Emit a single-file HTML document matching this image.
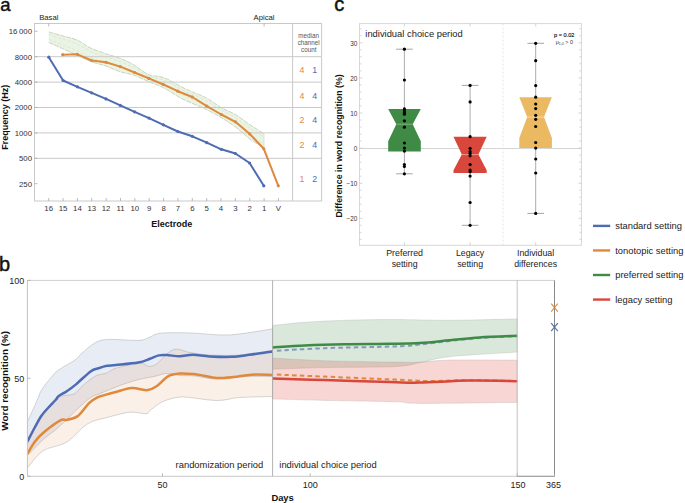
<!DOCTYPE html>
<html><head><meta charset="utf-8"><style>html,body{margin:0;padding:0;background:#fff;overflow:hidden}svg{display:block}</style></head><body>
<svg width="685" height="503" viewBox="0 0 685 503" font-family='"Liberation Sans", sans-serif'>
<rect width="685" height="503" fill="#fff"/>
<path d="M48.80,32.00 C51.23,32.68 58.63,34.73 63.40,36.10 C68.17,37.47 72.93,38.25 77.40,40.20 C81.87,42.15 85.53,45.57 90.20,47.80 C94.87,50.03 100.43,51.85 105.40,53.60 C110.37,55.35 115.33,56.47 120.00,58.30 C124.67,60.13 128.65,61.90 133.40,64.60 C138.15,67.30 143.25,72.27 148.50,74.50 C153.75,76.73 158.82,75.63 164.90,78.00 C170.98,80.37 178.27,85.47 185.00,88.70 C191.73,91.93 199.25,94.25 205.30,97.40 C211.35,100.55 216.22,104.70 221.30,107.60 C226.38,110.50 230.97,111.90 235.80,114.80 C240.63,117.70 245.60,121.85 250.30,125.00 C255.00,128.15 261.72,132.25 264.00,133.70 L264.00,148.00 C261.72,146.55 255.00,142.75 250.30,139.30 C245.60,135.85 240.63,130.90 235.80,127.30 C230.97,123.70 226.62,120.87 221.30,117.70 C215.98,114.53 210.38,111.42 203.90,108.30 C197.42,105.18 188.90,102.30 182.40,99.00 C175.90,95.70 170.35,91.32 164.90,88.50 C159.45,85.68 154.95,84.33 149.70,82.10 C144.45,79.87 138.35,76.83 133.40,75.10 C128.45,73.37 124.67,73.23 120.00,71.70 C115.33,70.17 110.17,67.55 105.40,65.90 C100.63,64.25 96.07,63.55 91.40,61.80 C86.73,60.05 82.07,57.53 77.40,55.40 C72.73,53.27 68.17,51.15 63.40,49.00 C58.63,46.85 51.23,43.58 48.80,42.50 Z" fill="#ebf4e4" stroke="none" stroke-width="0.5" fill-opacity="1"/>
<path d="M48.80,32.00 C51.23,32.68 58.63,34.73 63.40,36.10 C68.17,37.47 72.93,38.25 77.40,40.20 C81.87,42.15 85.53,45.57 90.20,47.80 C94.87,50.03 100.43,51.85 105.40,53.60 C110.37,55.35 115.33,56.47 120.00,58.30 C124.67,60.13 128.65,61.90 133.40,64.60 C138.15,67.30 143.25,72.27 148.50,74.50 C153.75,76.73 158.82,75.63 164.90,78.00 C170.98,80.37 178.27,85.47 185.00,88.70 C191.73,91.93 199.25,94.25 205.30,97.40 C211.35,100.55 216.22,104.70 221.30,107.60 C226.38,110.50 230.97,111.90 235.80,114.80 C240.63,117.70 245.60,121.85 250.30,125.00 C255.00,128.15 261.72,132.25 264.00,133.70" fill="none" stroke="#a3b597" stroke-width="0.55" stroke-dasharray="5 1"/>
<path d="M48.80,42.50 C51.23,43.58 58.63,46.85 63.40,49.00 C68.17,51.15 72.73,53.27 77.40,55.40 C82.07,57.53 86.73,60.05 91.40,61.80 C96.07,63.55 100.63,64.25 105.40,65.90 C110.17,67.55 115.33,70.17 120.00,71.70 C124.67,73.23 128.45,73.37 133.40,75.10 C138.35,76.83 144.45,79.87 149.70,82.10 C154.95,84.33 159.45,85.68 164.90,88.50 C170.35,91.32 175.90,95.70 182.40,99.00 C188.90,102.30 197.42,105.18 203.90,108.30 C210.38,111.42 215.98,114.53 221.30,117.70 C226.62,120.87 230.97,123.70 235.80,127.30 C240.63,130.90 245.60,135.85 250.30,139.30 C255.00,142.75 261.72,146.55 264.00,148.00" fill="none" stroke="#a3b597" stroke-width="0.55" stroke-dasharray="5 1"/>
<line x1="264" y1="133.7" x2="264" y2="148" stroke="#c6d8b8" stroke-width="0.6"/>
<path d="M48.80,34.62 C51.23,35.41 58.63,37.76 63.40,39.33 C68.17,40.89 72.93,42.00 77.40,44.00 C81.87,46.00 85.53,49.19 90.20,51.30 C94.87,53.41 100.43,54.95 105.40,56.68 C110.37,58.40 115.33,59.89 120.00,61.65 C124.67,63.41 128.65,64.77 133.40,67.22 C138.15,69.68 143.25,74.17 148.50,76.40 C153.75,78.63 158.82,78.15 164.90,80.62 C170.98,83.10 178.27,88.03 185.00,91.28 C191.73,94.53 199.25,96.98 205.30,100.13 C211.35,103.27 216.22,107.16 221.30,110.12 C226.38,113.09 230.97,114.85 235.80,117.92 C240.63,121.00 245.60,125.35 250.30,128.57 C255.00,131.80 261.72,135.82 264.00,137.27" fill="none" stroke="#cfe0c2" stroke-width="0.6" stroke-dasharray="3 2"/>
<path d="M48.80,39.35 C51.23,40.31 58.63,43.21 63.40,45.13 C68.17,47.04 72.93,48.76 77.40,50.84 C81.87,52.92 85.53,55.70 90.20,57.60 C94.87,59.49 100.43,60.53 105.40,62.21 C110.37,63.89 115.33,66.06 120.00,67.68 C124.67,69.30 128.65,69.93 133.40,71.95 C138.15,73.97 143.25,77.59 148.50,79.82 C153.75,82.05 158.82,82.67 164.90,85.35 C170.98,88.03 178.27,92.63 185.00,95.91 C191.73,99.19 199.25,101.90 205.30,105.03 C211.35,108.16 216.22,111.58 221.30,114.67 C226.38,117.76 230.97,120.16 235.80,123.55 C240.63,126.94 245.60,131.65 250.30,135.01 C255.00,138.37 261.72,142.26 264.00,143.71" fill="none" stroke="#cfe0c2" stroke-width="0.6" stroke-dasharray="3 2"/>
<line x1="34.5" y1="56.7" x2="321.6" y2="56.7" stroke="#c9c9c9" stroke-width="1" />
<line x1="34.5" y1="82.1" x2="321.6" y2="82.1" stroke="#c9c9c9" stroke-width="1" />
<line x1="34.5" y1="107.49999999999999" x2="321.6" y2="107.49999999999999" stroke="#c9c9c9" stroke-width="1" />
<line x1="34.5" y1="132.9" x2="321.6" y2="132.9" stroke="#c9c9c9" stroke-width="1" />
<line x1="34.5" y1="158.3" x2="321.6" y2="158.3" stroke="#c9c9c9" stroke-width="1" />
<rect x="34.5" y="23.5" width="287.1" height="177.5" fill="none" stroke="#c9c9c9" stroke-width="1"/>
<line x1="292.6" y1="23.5" x2="292.6" y2="201.0" stroke="#c9c9c9" stroke-width="1" />
<line x1="34.5" y1="31.3" x2="37.5" y2="31.3" stroke="#aaa" stroke-width="0.8" />
<line x1="34.5" y1="56.7" x2="37.5" y2="56.7" stroke="#aaa" stroke-width="0.8" />
<line x1="34.5" y1="82.1" x2="37.5" y2="82.1" stroke="#aaa" stroke-width="0.8" />
<line x1="34.5" y1="107.49999999999999" x2="37.5" y2="107.49999999999999" stroke="#aaa" stroke-width="0.8" />
<line x1="34.5" y1="132.9" x2="37.5" y2="132.9" stroke="#aaa" stroke-width="0.8" />
<line x1="34.5" y1="158.3" x2="37.5" y2="158.3" stroke="#aaa" stroke-width="0.8" />
<line x1="34.5" y1="183.7" x2="37.5" y2="183.7" stroke="#aaa" stroke-width="0.8" />
<text x="32" y="34.1" font-size="7.8" text-anchor="end" fill="#333" font-weight="normal" >16&#8201;000</text>
<text x="32" y="59.5" font-size="7.8" text-anchor="end" fill="#333" font-weight="normal" >8000</text>
<text x="32" y="84.89999999999999" font-size="7.8" text-anchor="end" fill="#333" font-weight="normal" >4000</text>
<text x="32" y="110.29999999999998" font-size="7.8" text-anchor="end" fill="#333" font-weight="normal" >2000</text>
<text x="32" y="135.70000000000002" font-size="7.8" text-anchor="end" fill="#333" font-weight="normal" >1000</text>
<text x="32" y="161.10000000000002" font-size="7.8" text-anchor="end" fill="#333" font-weight="normal" >500</text>
<text x="32" y="186.5" font-size="7.8" text-anchor="end" fill="#333" font-weight="normal" >250</text>
<line x1="48.7" y1="201.0" x2="48.7" y2="198.0" stroke="#aaa" stroke-width="0.8" />
<text x="48.7" y="210.6" font-size="7.8" text-anchor="middle" fill="#333" font-weight="normal" >16</text>
<line x1="63.06" y1="201.0" x2="63.06" y2="198.0" stroke="#aaa" stroke-width="0.8" />
<text x="63.06" y="210.6" font-size="7.8" text-anchor="middle" fill="#333" font-weight="normal" >15</text>
<line x1="77.42" y1="201.0" x2="77.42" y2="198.0" stroke="#aaa" stroke-width="0.8" />
<text x="77.42" y="210.6" font-size="7.8" text-anchor="middle" fill="#333" font-weight="normal" >14</text>
<line x1="91.78" y1="201.0" x2="91.78" y2="198.0" stroke="#aaa" stroke-width="0.8" />
<text x="91.78" y="210.6" font-size="7.8" text-anchor="middle" fill="#333" font-weight="normal" >13</text>
<line x1="106.14" y1="201.0" x2="106.14" y2="198.0" stroke="#aaa" stroke-width="0.8" />
<text x="106.14" y="210.6" font-size="7.8" text-anchor="middle" fill="#333" font-weight="normal" >12</text>
<line x1="120.5" y1="201.0" x2="120.5" y2="198.0" stroke="#aaa" stroke-width="0.8" />
<text x="120.5" y="210.6" font-size="7.8" text-anchor="middle" fill="#333" font-weight="normal" >11</text>
<line x1="134.86" y1="201.0" x2="134.86" y2="198.0" stroke="#aaa" stroke-width="0.8" />
<text x="134.86" y="210.6" font-size="7.8" text-anchor="middle" fill="#333" font-weight="normal" >10</text>
<line x1="149.22" y1="201.0" x2="149.22" y2="198.0" stroke="#aaa" stroke-width="0.8" />
<text x="149.22" y="210.6" font-size="7.8" text-anchor="middle" fill="#333" font-weight="normal" >9</text>
<line x1="163.57999999999998" y1="201.0" x2="163.57999999999998" y2="198.0" stroke="#aaa" stroke-width="0.8" />
<text x="163.57999999999998" y="210.6" font-size="7.8" text-anchor="middle" fill="#333" font-weight="normal" >8</text>
<line x1="177.94" y1="201.0" x2="177.94" y2="198.0" stroke="#aaa" stroke-width="0.8" />
<text x="177.94" y="210.6" font-size="7.8" text-anchor="middle" fill="#333" font-weight="normal" >7</text>
<line x1="192.3" y1="201.0" x2="192.3" y2="198.0" stroke="#aaa" stroke-width="0.8" />
<text x="192.3" y="210.6" font-size="7.8" text-anchor="middle" fill="#333" font-weight="normal" >6</text>
<line x1="206.65999999999997" y1="201.0" x2="206.65999999999997" y2="198.0" stroke="#aaa" stroke-width="0.8" />
<text x="206.65999999999997" y="210.6" font-size="7.8" text-anchor="middle" fill="#333" font-weight="normal" >5</text>
<line x1="221.01999999999998" y1="201.0" x2="221.01999999999998" y2="198.0" stroke="#aaa" stroke-width="0.8" />
<text x="221.01999999999998" y="210.6" font-size="7.8" text-anchor="middle" fill="#333" font-weight="normal" >4</text>
<line x1="235.38" y1="201.0" x2="235.38" y2="198.0" stroke="#aaa" stroke-width="0.8" />
<text x="235.38" y="210.6" font-size="7.8" text-anchor="middle" fill="#333" font-weight="normal" >3</text>
<line x1="249.74" y1="201.0" x2="249.74" y2="198.0" stroke="#aaa" stroke-width="0.8" />
<text x="249.74" y="210.6" font-size="7.8" text-anchor="middle" fill="#333" font-weight="normal" >2</text>
<line x1="264.09999999999997" y1="201.0" x2="264.09999999999997" y2="198.0" stroke="#aaa" stroke-width="0.8" />
<text x="264.09999999999997" y="210.6" font-size="7.8" text-anchor="middle" fill="#333" font-weight="normal" >1</text>
<line x1="278.46" y1="201.0" x2="278.46" y2="198.0" stroke="#aaa" stroke-width="0.8" />
<text x="278.46" y="210.6" font-size="7.8" text-anchor="middle" fill="#333" font-weight="normal" >V</text>
<line x1="48.7" y1="23.5" x2="48.7" y2="26.5" stroke="#aaa" stroke-width="0.8" />
<line x1="264.09999999999997" y1="23.5" x2="264.09999999999997" y2="26.5" stroke="#aaa" stroke-width="0.8" />
<text x="48.800000000000004" y="19.5" font-size="7.7" text-anchor="middle" fill="#222" font-weight="normal" >Basal</text>
<text x="264.09999999999997" y="19.5" font-size="7.7" text-anchor="middle" fill="#222" font-weight="normal" >Apical</text>
<text x="171.8" y="226.7" font-size="9" text-anchor="middle" fill="#111" font-weight="bold" >Electrode</text>
<text x="0" y="0" font-size="9" font-weight="bold" fill="#111" text-anchor="middle" transform="translate(8.2,117.3) rotate(-90)">Frequency (Hz)</text>
<text x="0.2" y="10.8" font-size="18.5" text-anchor="start" fill="#111" font-weight="normal" stroke="#111" stroke-width="0.45">a</text>
<polyline points="48.80,57.20 63.10,80.50 77.40,86.80 91.70,92.80 106.00,98.90 120.30,105.40 134.60,111.80 149.00,118.10 163.40,124.80 177.80,131.50 192.30,136.30 206.80,142.70 221.30,149.30 235.40,153.50 249.60,163.00 263.80,185.80" fill="none" stroke="#4e6cb3" stroke-width="2" stroke-linejoin="round"/>
<polyline points="62.70,54.70 77.40,54.30 91.70,60.50 106.00,62.30 120.30,66.60 134.60,72.50 148.90,78.40 163.40,84.50 177.80,91.20 192.30,97.00 206.80,106.20 221.30,114.50 235.40,121.80 249.60,133.80 263.80,148.80 278.30,185.80" fill="none" stroke="#de893b" stroke-width="2" stroke-linejoin="round"/>
<circle cx="48.8" cy="57.2" r="1.6" fill="#4e6cb3"/>
<circle cx="63.1" cy="80.5" r="1.6" fill="#4e6cb3"/>
<circle cx="77.4" cy="86.8" r="1.6" fill="#4e6cb3"/>
<circle cx="91.7" cy="92.8" r="1.6" fill="#4e6cb3"/>
<circle cx="106" cy="98.9" r="1.6" fill="#4e6cb3"/>
<circle cx="120.3" cy="105.4" r="1.6" fill="#4e6cb3"/>
<circle cx="134.6" cy="111.8" r="1.6" fill="#4e6cb3"/>
<circle cx="149" cy="118.1" r="1.6" fill="#4e6cb3"/>
<circle cx="163.4" cy="124.8" r="1.6" fill="#4e6cb3"/>
<circle cx="177.8" cy="131.5" r="1.6" fill="#4e6cb3"/>
<circle cx="192.3" cy="136.3" r="1.6" fill="#4e6cb3"/>
<circle cx="206.8" cy="142.7" r="1.6" fill="#4e6cb3"/>
<circle cx="221.3" cy="149.3" r="1.6" fill="#4e6cb3"/>
<circle cx="235.4" cy="153.5" r="1.6" fill="#4e6cb3"/>
<circle cx="249.6" cy="163" r="1.6" fill="#4e6cb3"/>
<circle cx="263.8" cy="185.8" r="1.6" fill="#4e6cb3"/>
<circle cx="62.7" cy="54.7" r="1.6" fill="#de893b"/>
<circle cx="77.4" cy="54.3" r="1.6" fill="#de893b"/>
<circle cx="91.7" cy="60.5" r="1.6" fill="#de893b"/>
<circle cx="106" cy="62.3" r="1.6" fill="#de893b"/>
<circle cx="120.3" cy="66.6" r="1.6" fill="#de893b"/>
<circle cx="134.6" cy="72.5" r="1.6" fill="#de893b"/>
<circle cx="148.9" cy="78.4" r="1.6" fill="#de893b"/>
<circle cx="163.4" cy="84.5" r="1.6" fill="#de893b"/>
<circle cx="177.8" cy="91.2" r="1.6" fill="#de893b"/>
<circle cx="192.3" cy="97" r="1.6" fill="#de893b"/>
<circle cx="206.8" cy="106.2" r="1.6" fill="#de893b"/>
<circle cx="221.3" cy="114.5" r="1.6" fill="#de893b"/>
<circle cx="235.4" cy="121.8" r="1.6" fill="#de893b"/>
<circle cx="249.6" cy="133.8" r="1.6" fill="#de893b"/>
<circle cx="263.8" cy="148.8" r="1.6" fill="#de893b"/>
<circle cx="278.3" cy="185.8" r="1.6" fill="#de893b"/>
<text x="308.7" y="37.8" font-size="6.3" text-anchor="middle" fill="#555" font-weight="normal" >median</text>
<text x="308.7" y="44.8" font-size="6.3" text-anchor="middle" fill="#555" font-weight="normal" >channel</text>
<text x="308.7" y="51.8" font-size="6.3" text-anchor="middle" fill="#555" font-weight="normal" >count</text>
<text x="301.9" y="73.3" font-size="8.8" text-anchor="middle" fill="#de893b" font-weight="normal" >4</text>
<text x="314.6" y="73.3" font-size="8.8" text-anchor="middle" fill="#4e6cb3" font-weight="normal" >1</text>
<text x="301.9" y="98.6" font-size="8.8" text-anchor="middle" fill="#de893b" font-weight="normal" >4</text>
<text x="314.6" y="98.6" font-size="8.8" text-anchor="middle" fill="#4e6cb3" font-weight="normal" >4</text>
<text x="301.9" y="123.1" font-size="8.8" text-anchor="middle" fill="#de893b" font-weight="normal" >2</text>
<text x="314.6" y="123.1" font-size="8.8" text-anchor="middle" fill="#4e6cb3" font-weight="normal" >4</text>
<text x="301.9" y="148.1" font-size="8.8" text-anchor="middle" fill="#de893b" font-weight="normal" >2</text>
<text x="314.6" y="148.1" font-size="8.8" text-anchor="middle" fill="#4e6cb3" font-weight="normal" >4</text>
<text x="301.9" y="181.9" font-size="8.8" text-anchor="middle" fill="#de893b" font-weight="normal" >1</text>
<text x="314.6" y="181.9" font-size="8.8" text-anchor="middle" fill="#4e6cb3" font-weight="normal" >2</text>
<text x="334.3" y="10.5" font-size="20" text-anchor="start" fill="#111" font-weight="normal" stroke="#111" stroke-width="0.5">c</text>
<rect x="359.5" y="23.6" width="221.89999999999998" height="221.70000000000002" fill="none" stroke="#d8d8d8" stroke-width="1"/>
<line x1="359.5" y1="148.5" x2="581.4" y2="148.5" stroke="#d4d4d4" stroke-width="1" />
<line x1="503.2" y1="23.6" x2="503.2" y2="245.3" stroke="#e0e0e0" stroke-width="0.8" stroke-dasharray="2 2"/>
<line x1="359.5" y1="239.35999999999999" x2="361.5" y2="239.35999999999999" stroke="#bbb" stroke-width="0.6" />
<line x1="581.4" y1="239.35999999999999" x2="579.4" y2="239.35999999999999" stroke="#bbb" stroke-width="0.6" />
<line x1="359.5" y1="232.33999999999997" x2="361.5" y2="232.33999999999997" stroke="#bbb" stroke-width="0.6" />
<line x1="581.4" y1="232.33999999999997" x2="579.4" y2="232.33999999999997" stroke="#bbb" stroke-width="0.6" />
<line x1="359.5" y1="225.32" x2="361.5" y2="225.32" stroke="#bbb" stroke-width="0.6" />
<line x1="581.4" y1="225.32" x2="579.4" y2="225.32" stroke="#bbb" stroke-width="0.6" />
<line x1="359.5" y1="218.29999999999998" x2="362.5" y2="218.29999999999998" stroke="#bbb" stroke-width="0.6" />
<line x1="581.4" y1="218.29999999999998" x2="578.4" y2="218.29999999999998" stroke="#bbb" stroke-width="0.6" />
<line x1="359.5" y1="211.27999999999997" x2="361.5" y2="211.27999999999997" stroke="#bbb" stroke-width="0.6" />
<line x1="581.4" y1="211.27999999999997" x2="579.4" y2="211.27999999999997" stroke="#bbb" stroke-width="0.6" />
<line x1="359.5" y1="204.26" x2="361.5" y2="204.26" stroke="#bbb" stroke-width="0.6" />
<line x1="581.4" y1="204.26" x2="579.4" y2="204.26" stroke="#bbb" stroke-width="0.6" />
<line x1="359.5" y1="197.24" x2="361.5" y2="197.24" stroke="#bbb" stroke-width="0.6" />
<line x1="581.4" y1="197.24" x2="579.4" y2="197.24" stroke="#bbb" stroke-width="0.6" />
<line x1="359.5" y1="190.22" x2="361.5" y2="190.22" stroke="#bbb" stroke-width="0.6" />
<line x1="581.4" y1="190.22" x2="579.4" y2="190.22" stroke="#bbb" stroke-width="0.6" />
<line x1="359.5" y1="183.2" x2="362.5" y2="183.2" stroke="#bbb" stroke-width="0.6" />
<line x1="581.4" y1="183.2" x2="578.4" y2="183.2" stroke="#bbb" stroke-width="0.6" />
<line x1="359.5" y1="176.18" x2="361.5" y2="176.18" stroke="#bbb" stroke-width="0.6" />
<line x1="581.4" y1="176.18" x2="579.4" y2="176.18" stroke="#bbb" stroke-width="0.6" />
<line x1="359.5" y1="169.16" x2="361.5" y2="169.16" stroke="#bbb" stroke-width="0.6" />
<line x1="581.4" y1="169.16" x2="579.4" y2="169.16" stroke="#bbb" stroke-width="0.6" />
<line x1="359.5" y1="162.14" x2="361.5" y2="162.14" stroke="#bbb" stroke-width="0.6" />
<line x1="581.4" y1="162.14" x2="579.4" y2="162.14" stroke="#bbb" stroke-width="0.6" />
<line x1="359.5" y1="155.12" x2="361.5" y2="155.12" stroke="#bbb" stroke-width="0.6" />
<line x1="581.4" y1="155.12" x2="579.4" y2="155.12" stroke="#bbb" stroke-width="0.6" />
<line x1="359.5" y1="148.1" x2="362.5" y2="148.1" stroke="#bbb" stroke-width="0.6" />
<line x1="581.4" y1="148.1" x2="578.4" y2="148.1" stroke="#bbb" stroke-width="0.6" />
<line x1="359.5" y1="141.07999999999998" x2="361.5" y2="141.07999999999998" stroke="#bbb" stroke-width="0.6" />
<line x1="581.4" y1="141.07999999999998" x2="579.4" y2="141.07999999999998" stroke="#bbb" stroke-width="0.6" />
<line x1="359.5" y1="134.06" x2="361.5" y2="134.06" stroke="#bbb" stroke-width="0.6" />
<line x1="581.4" y1="134.06" x2="579.4" y2="134.06" stroke="#bbb" stroke-width="0.6" />
<line x1="359.5" y1="127.03999999999999" x2="361.5" y2="127.03999999999999" stroke="#bbb" stroke-width="0.6" />
<line x1="581.4" y1="127.03999999999999" x2="579.4" y2="127.03999999999999" stroke="#bbb" stroke-width="0.6" />
<line x1="359.5" y1="120.02" x2="361.5" y2="120.02" stroke="#bbb" stroke-width="0.6" />
<line x1="581.4" y1="120.02" x2="579.4" y2="120.02" stroke="#bbb" stroke-width="0.6" />
<line x1="359.5" y1="113.0" x2="362.5" y2="113.0" stroke="#bbb" stroke-width="0.6" />
<line x1="581.4" y1="113.0" x2="578.4" y2="113.0" stroke="#bbb" stroke-width="0.6" />
<line x1="359.5" y1="105.97999999999999" x2="361.5" y2="105.97999999999999" stroke="#bbb" stroke-width="0.6" />
<line x1="581.4" y1="105.97999999999999" x2="579.4" y2="105.97999999999999" stroke="#bbb" stroke-width="0.6" />
<line x1="359.5" y1="98.96" x2="361.5" y2="98.96" stroke="#bbb" stroke-width="0.6" />
<line x1="581.4" y1="98.96" x2="579.4" y2="98.96" stroke="#bbb" stroke-width="0.6" />
<line x1="359.5" y1="91.94" x2="361.5" y2="91.94" stroke="#bbb" stroke-width="0.6" />
<line x1="581.4" y1="91.94" x2="579.4" y2="91.94" stroke="#bbb" stroke-width="0.6" />
<line x1="359.5" y1="84.92" x2="361.5" y2="84.92" stroke="#bbb" stroke-width="0.6" />
<line x1="581.4" y1="84.92" x2="579.4" y2="84.92" stroke="#bbb" stroke-width="0.6" />
<line x1="359.5" y1="77.9" x2="362.5" y2="77.9" stroke="#bbb" stroke-width="0.6" />
<line x1="581.4" y1="77.9" x2="578.4" y2="77.9" stroke="#bbb" stroke-width="0.6" />
<line x1="359.5" y1="70.88" x2="361.5" y2="70.88" stroke="#bbb" stroke-width="0.6" />
<line x1="581.4" y1="70.88" x2="579.4" y2="70.88" stroke="#bbb" stroke-width="0.6" />
<line x1="359.5" y1="63.86" x2="361.5" y2="63.86" stroke="#bbb" stroke-width="0.6" />
<line x1="581.4" y1="63.86" x2="579.4" y2="63.86" stroke="#bbb" stroke-width="0.6" />
<line x1="359.5" y1="56.84" x2="361.5" y2="56.84" stroke="#bbb" stroke-width="0.6" />
<line x1="581.4" y1="56.84" x2="579.4" y2="56.84" stroke="#bbb" stroke-width="0.6" />
<line x1="359.5" y1="49.81999999999999" x2="361.5" y2="49.81999999999999" stroke="#bbb" stroke-width="0.6" />
<line x1="581.4" y1="49.81999999999999" x2="579.4" y2="49.81999999999999" stroke="#bbb" stroke-width="0.6" />
<line x1="359.5" y1="42.8" x2="362.5" y2="42.8" stroke="#bbb" stroke-width="0.6" />
<line x1="581.4" y1="42.8" x2="578.4" y2="42.8" stroke="#bbb" stroke-width="0.6" />
<line x1="359.5" y1="35.78" x2="361.5" y2="35.78" stroke="#bbb" stroke-width="0.6" />
<line x1="581.4" y1="35.78" x2="579.4" y2="35.78" stroke="#bbb" stroke-width="0.6" />
<line x1="359.5" y1="28.760000000000005" x2="361.5" y2="28.760000000000005" stroke="#bbb" stroke-width="0.6" />
<line x1="581.4" y1="28.760000000000005" x2="579.4" y2="28.760000000000005" stroke="#bbb" stroke-width="0.6" />
<text x="357.4" y="45.599999999999994" font-size="6.4" text-anchor="end" fill="#333" font-weight="normal" >30</text>
<text x="357.4" y="80.7" font-size="6.4" text-anchor="end" fill="#333" font-weight="normal" >20</text>
<text x="357.4" y="115.8" font-size="6.4" text-anchor="end" fill="#333" font-weight="normal" >10</text>
<text x="357.4" y="150.9" font-size="6.4" text-anchor="end" fill="#333" font-weight="normal" >0</text>
<text x="357.4" y="186.0" font-size="6.4" text-anchor="end" fill="#333" font-weight="normal" >&#8722;10</text>
<text x="357.4" y="221.1" font-size="6.4" text-anchor="end" fill="#333" font-weight="normal" >&#8722;20</text>
<line x1="404.4" y1="23.6" x2="404.4" y2="26.6" stroke="#bbb" stroke-width="0.6" />
<line x1="404.4" y1="245.3" x2="404.4" y2="242.3" stroke="#bbb" stroke-width="0.6" />
<line x1="470.1" y1="23.6" x2="470.1" y2="26.6" stroke="#bbb" stroke-width="0.6" />
<line x1="470.1" y1="245.3" x2="470.1" y2="242.3" stroke="#bbb" stroke-width="0.6" />
<line x1="535.7" y1="23.6" x2="535.7" y2="26.6" stroke="#bbb" stroke-width="0.6" />
<line x1="535.7" y1="245.3" x2="535.7" y2="242.3" stroke="#bbb" stroke-width="0.6" />
<text x="365.3" y="37.3" font-size="9.4" text-anchor="start" fill="#222" font-weight="normal" >individual choice period</text>
<text x="564.3" y="37.3" font-size="5.6" text-anchor="middle" fill="#111" font-weight="normal" stroke="#111" stroke-width="0.15">p = 0.02</text>
<text x="564.3" y="44.2" font-size="5.4" text-anchor="middle" fill="#333">&#956;<tspan font-size="3.6" dy="1">1,0</tspan><tspan dy="-1"> &gt; 0</tspan></text>
<text x="0" y="0" font-size="8.8" font-weight="bold" fill="#111" text-anchor="middle" transform="translate(342.2,145.9) rotate(-90)">Difference in word recognition (%)</text>
<text x="404.6" y="256.2" font-size="8.8" text-anchor="middle" fill="#222" font-weight="normal" >Preferred</text>
<text x="404.6" y="267.2" font-size="8.8" text-anchor="middle" fill="#222" font-weight="normal" >setting</text>
<text x="470.1" y="256.2" font-size="8.8" text-anchor="middle" fill="#222" font-weight="normal" >Legacy</text>
<text x="470.1" y="267.2" font-size="8.8" text-anchor="middle" fill="#222" font-weight="normal" >setting</text>
<text x="535.6" y="256.2" font-size="8.8" text-anchor="middle" fill="#222" font-weight="normal" >Individual</text>
<text x="535.6" y="267.2" font-size="8.8" text-anchor="middle" fill="#222" font-weight="normal" >differences</text>
<line x1="404.4" y1="49.2" x2="404.4" y2="173.8" stroke="#a3a3a3" stroke-width="0.9" />
<line x1="396.09999999999997" y1="49.2" x2="412.7" y2="49.2" stroke="#9a9a9a" stroke-width="0.9" />
<line x1="396.09999999999997" y1="173.8" x2="412.7" y2="173.8" stroke="#9a9a9a" stroke-width="0.9" />
<polygon points="388.20,108.90 420.80,108.90 412.70,124.20 420.80,141.30 420.80,151.60 388.20,151.60 388.20,141.30 396.30,124.20" fill="#3f8b46"/>
<line x1="396.6" y1="124.2" x2="412.4" y2="124.2" stroke="#8fbd8f" stroke-width="0.8" />
<circle cx="404.4" cy="49.2" r="1.6" fill="#000"/>
<circle cx="404.4" cy="80" r="1.6" fill="#000"/>
<circle cx="404.4" cy="108.9" r="1.6" fill="#000"/>
<circle cx="404.4" cy="110.9" r="1.6" fill="#000"/>
<circle cx="404.4" cy="112.8" r="1.6" fill="#000"/>
<circle cx="404.4" cy="114.2" r="1.6" fill="#000"/>
<circle cx="404.4" cy="120.8" r="1.6" fill="#000"/>
<circle cx="404.4" cy="127.2" r="1.6" fill="#000"/>
<circle cx="404.4" cy="143" r="1.6" fill="#000"/>
<circle cx="404.4" cy="148" r="1.6" fill="#000"/>
<circle cx="404.4" cy="151.1" r="1.6" fill="#000"/>
<circle cx="404.4" cy="164.5" r="1.6" fill="#000"/>
<circle cx="404.4" cy="166.5" r="1.6" fill="#000"/>
<circle cx="404.4" cy="173.8" r="1.6" fill="#000"/>
<line x1="470.1" y1="85.4" x2="470.1" y2="225.3" stroke="#a3a3a3" stroke-width="0.9" />
<line x1="461.8" y1="85.4" x2="478.40000000000003" y2="85.4" stroke="#9a9a9a" stroke-width="0.9" />
<line x1="461.8" y1="225.3" x2="478.40000000000003" y2="225.3" stroke="#9a9a9a" stroke-width="0.9" />
<polygon points="453.50,136.80 486.70,136.80 478.40,154.60 486.70,170.30 486.70,173.00 453.50,173.00 453.50,170.30 461.80,154.60" fill="#d9463b"/>
<line x1="462" y1="154.6" x2="478.2" y2="154.6" stroke="#eea99f" stroke-width="0.8" />
<circle cx="470.1" cy="85.4" r="1.6" fill="#000"/>
<circle cx="470.1" cy="101.9" r="1.6" fill="#000"/>
<circle cx="470.1" cy="136.7" r="1.6" fill="#000"/>
<circle cx="470.1" cy="148.3" r="1.6" fill="#000"/>
<circle cx="470.1" cy="151.6" r="1.6" fill="#000"/>
<circle cx="470.1" cy="153.6" r="1.6" fill="#000"/>
<circle cx="470.1" cy="155.8" r="1.6" fill="#000"/>
<circle cx="470.1" cy="164.6" r="1.6" fill="#000"/>
<circle cx="470.1" cy="170.1" r="1.6" fill="#000"/>
<circle cx="470.1" cy="171.8" r="1.6" fill="#000"/>
<circle cx="470.1" cy="176.1" r="1.6" fill="#000"/>
<circle cx="470.1" cy="202.5" r="1.6" fill="#000"/>
<circle cx="470.1" cy="225.3" r="1.6" fill="#000"/>
<line x1="535.7" y1="43.3" x2="535.7" y2="213.4" stroke="#a3a3a3" stroke-width="0.9" />
<line x1="527.4000000000001" y1="43.3" x2="544.0" y2="43.3" stroke="#9a9a9a" stroke-width="0.9" />
<line x1="527.4000000000001" y1="213.4" x2="544.0" y2="213.4" stroke="#9a9a9a" stroke-width="0.9" />
<polygon points="519.30,97.20 551.90,97.20 544.00,117.10 551.90,138.00 551.90,148.00 519.30,148.00 519.30,138.00 527.20,117.10" fill="#ecb963"/>
<line x1="527.4" y1="117.1" x2="543.8" y2="117.1" stroke="#f7e2bb" stroke-width="0.8" />
<circle cx="535.7" cy="43.3" r="1.6" fill="#000"/>
<circle cx="535.7" cy="60.7" r="1.6" fill="#000"/>
<circle cx="535.7" cy="85.6" r="1.6" fill="#000"/>
<circle cx="535.7" cy="97.2" r="1.6" fill="#000"/>
<circle cx="535.7" cy="104" r="1.6" fill="#000"/>
<circle cx="535.7" cy="108.6" r="1.6" fill="#000"/>
<circle cx="535.7" cy="115.3" r="1.6" fill="#000"/>
<circle cx="535.7" cy="119.3" r="1.6" fill="#000"/>
<circle cx="535.7" cy="126.5" r="1.6" fill="#000"/>
<circle cx="535.7" cy="142.5" r="1.6" fill="#000"/>
<circle cx="535.7" cy="148.1" r="1.6" fill="#000"/>
<circle cx="535.7" cy="159" r="1.6" fill="#000"/>
<circle cx="535.7" cy="173" r="1.6" fill="#000"/>
<circle cx="535.7" cy="213.4" r="1.6" fill="#000"/>
<line x1="593" y1="225.9" x2="610.2" y2="225.9" stroke="#4e6cb3" stroke-width="2.4" />
<text x="615.2" y="229.1" font-size="9.4" text-anchor="start" fill="#222" font-weight="normal" >standard setting</text>
<line x1="593" y1="250.45000000000002" x2="610.2" y2="250.45000000000002" stroke="#de893b" stroke-width="2.4" />
<text x="615.2" y="253.65" font-size="9.4" text-anchor="start" fill="#222" font-weight="normal" >tonotopic setting</text>
<line x1="593" y1="275.0" x2="610.2" y2="275.0" stroke="#3f8b46" stroke-width="2.4" />
<text x="615.2" y="278.2" font-size="9.4" text-anchor="start" fill="#222" font-weight="normal" >preferred setting</text>
<line x1="593" y1="299.55" x2="610.2" y2="299.55" stroke="#d9463b" stroke-width="2.4" />
<text x="615.2" y="302.75" font-size="9.4" text-anchor="start" fill="#222" font-weight="normal" >legacy setting</text>
<text x="-1.0" y="270.7" font-size="20" text-anchor="start" fill="#111" font-weight="normal" stroke="#111" stroke-width="0.45">b</text>
<clipPath id="cb"><rect x="27.9" y="280.4" width="526" height="196"/></clipPath><g clip-path="url(#cb)">
<path d="M27.20,422.30 C28.88,418.58 34.95,405.32 37.30,400.00 C39.65,394.68 39.03,394.12 41.30,390.40 C43.57,386.68 47.98,381.13 50.90,377.70 C53.82,374.27 54.83,372.72 58.80,369.80 C62.77,366.88 70.98,362.85 74.70,360.20 C78.42,357.55 78.45,356.28 81.10,353.90 C83.75,351.52 87.68,348.03 90.60,345.90 C93.52,343.77 95.87,342.17 98.60,341.10 C101.33,340.03 104.12,339.77 107.00,339.50 C109.88,339.23 110.43,339.37 115.90,339.50 C121.37,339.63 134.12,340.72 139.80,340.30 C145.48,339.88 146.57,338.18 150.00,337.00 C153.43,335.82 153.77,333.88 160.40,333.20 C167.03,332.52 178.28,332.62 189.80,332.90 C201.32,333.18 215.72,335.57 229.50,334.90 C243.28,334.23 265.33,329.90 272.50,328.90 L272.50,376.50 C268.08,376.50 255.43,376.08 246.00,376.50 C236.57,376.92 224.40,379.08 215.90,379.00 C207.40,378.92 200.98,376.58 195.00,376.00 C189.02,375.42 184.70,375.92 180.00,375.50 C175.30,375.08 170.85,373.40 166.80,373.50 C162.75,373.60 160.20,375.13 155.70,376.10 C151.20,377.07 145.10,377.97 139.80,379.30 C134.50,380.63 130.53,381.72 123.90,384.10 C117.27,386.48 106.08,390.95 100.00,393.60 C93.92,396.25 94.27,394.43 87.40,400.00 C80.53,405.57 66.22,420.37 58.80,427.00 C51.38,433.63 48.17,435.02 42.90,439.80 C37.63,444.58 29.82,453.05 27.20,455.70 Z" fill="#4b69b1" stroke="#999" stroke-width="0.4" fill-opacity="0.13"/>
<path d="M27.20,441.00 C28.42,438.67 32.15,431.33 34.50,427.00 C36.85,422.67 39.05,418.33 41.30,415.00 C43.55,411.67 45.62,409.67 48.00,407.00 C50.38,404.33 53.80,400.70 55.60,399.00 C57.40,397.30 56.93,397.43 58.80,396.80 C60.67,396.17 64.15,395.73 66.80,395.20 C69.45,394.67 72.05,395.18 74.70,393.60 C77.35,392.02 79.25,388.62 82.70,385.70 C86.15,382.78 91.35,378.23 95.40,376.10 C99.45,373.97 103.58,374.22 107.00,372.90 C110.42,371.58 110.43,369.78 115.90,368.20 C121.37,366.62 134.23,363.70 139.80,363.40 C145.37,363.10 146.38,366.40 149.30,366.40 C152.22,366.40 154.38,365.48 157.30,363.40 C160.22,361.32 163.63,356.28 166.80,353.90 C169.97,351.52 172.47,349.33 176.30,349.10 C180.13,348.87 184.25,351.52 189.80,352.50 C195.35,353.48 201.33,354.58 209.60,355.00 C217.87,355.42 228.92,355.75 239.40,355.00 C249.88,354.25 266.98,351.25 272.50,350.50 L272.50,396.50 C266.98,396.67 248.55,396.83 239.40,397.50 C230.25,398.17 225.87,400.50 217.60,400.50 C209.33,400.50 196.07,398.08 189.80,397.50 C183.53,396.92 183.30,396.75 180.00,397.00 C176.70,397.25 173.33,398.00 170.00,399.00 C166.67,400.00 163.33,401.08 160.00,403.00 C156.67,404.92 152.37,408.70 150.00,410.50 C147.63,412.30 149.15,413.52 145.80,413.80 C142.45,414.08 136.37,411.58 129.90,412.20 C123.43,412.82 114.08,415.55 107.00,417.50 C99.92,419.45 94.10,419.80 87.40,423.90 C80.70,428.00 74.22,437.60 66.80,442.10 C59.38,446.60 49.50,446.53 42.90,450.90 C36.30,455.27 29.82,465.40 27.20,468.30 Z" fill="#df8737" stroke="#999" stroke-width="0.4" fill-opacity="0.12"/>
<path d="M272.50,325.50 C277.88,324.97 292.80,323.17 304.80,322.30 C316.80,321.43 329.47,320.77 344.50,320.30 C359.53,319.83 377.48,319.50 395.00,319.50 C412.52,319.50 429.23,320.40 449.60,320.30 C469.97,320.20 505.93,319.13 517.20,318.90 L517.20,352.10 C505.93,352.87 465.83,354.93 449.60,356.70 C433.37,358.47 428.90,361.05 419.80,362.70 C410.70,364.35 410.87,365.78 395.00,366.60 C379.13,367.42 345.02,367.17 324.60,367.60 C304.18,368.03 281.18,368.93 272.50,369.20 Z" fill="#3f8b46" stroke="#aaa" stroke-width="0.3" fill-opacity="0.2"/>
<path d="M272.50,358.10 C281.18,358.53 304.18,360.03 324.60,360.70 C345.02,361.37 379.13,361.87 395.00,362.10 C410.87,362.33 410.70,362.43 419.80,362.10 C428.90,361.77 433.37,360.43 449.60,360.10 C465.83,359.77 505.93,360.10 517.20,360.10 L517.20,402.40 C500.97,402.57 440.17,403.50 419.80,403.40 C399.43,403.30 410.87,402.30 395.00,401.80 C379.13,401.30 345.02,400.87 324.60,400.40 C304.18,399.93 281.18,399.23 272.50,399.00 Z" fill="#d9463b" stroke="#aaa" stroke-width="0.3" fill-opacity="0.22"/>
<path d="M27.20,442.00 C28.42,439.67 32.15,432.33 34.50,428.00 C36.85,423.67 39.05,419.33 41.30,416.00 C43.55,412.67 45.62,410.67 48.00,408.00 C50.38,405.33 53.80,402.00 55.60,400.00 C57.40,398.00 56.93,397.47 58.80,396.00 C60.67,394.53 63.88,393.18 66.80,391.20 C69.72,389.22 72.33,387.40 76.30,384.10 C80.27,380.80 86.88,374.05 90.60,371.40 C94.32,368.75 95.87,369.13 98.60,368.20 C101.33,367.27 104.12,366.33 107.00,365.80 C109.88,365.27 110.70,365.53 115.90,365.00 C121.10,364.47 132.52,363.63 138.20,362.60 C143.88,361.57 146.57,360.00 150.00,358.80 C153.43,357.60 156.00,356.02 158.80,355.40 C161.60,354.78 163.30,354.95 166.80,355.10 C170.30,355.25 175.48,356.35 179.80,356.30 C184.12,356.25 187.73,354.78 192.70,354.80 C197.67,354.82 203.13,356.07 209.60,356.40 C216.07,356.73 224.87,357.07 231.50,356.80 C238.13,356.53 242.57,355.70 249.40,354.80 C256.23,353.90 268.65,351.97 272.50,351.40" fill="none" stroke="#4e6cb3" stroke-width="2.5"/>
<path d="M27.20,454.10 C28.50,451.98 32.12,445.12 35.00,441.40 C37.88,437.68 40.27,435.30 44.50,431.80 C48.73,428.30 56.68,422.38 60.40,420.40 C64.12,418.42 63.88,420.65 66.80,419.90 C69.72,419.15 74.20,418.68 77.90,415.90 C81.60,413.12 85.82,406.25 89.00,403.20 C92.18,400.15 94.00,399.07 97.00,397.60 C100.00,396.13 103.85,395.33 107.00,394.40 C110.15,393.47 111.77,393.05 115.90,392.00 C120.03,390.95 126.50,388.42 131.80,388.10 C137.10,387.78 143.45,390.50 147.70,390.10 C151.95,389.70 153.85,388.03 157.30,385.70 C160.75,383.37 164.62,378.13 168.40,376.10 C172.18,374.07 175.78,373.83 180.00,373.50 C184.22,373.17 189.75,373.73 193.70,374.10 C197.65,374.47 199.88,375.05 203.70,375.70 C207.52,376.35 211.63,377.78 216.60,378.00 C221.57,378.22 227.70,377.55 233.50,377.00 C239.30,376.45 244.90,375.05 251.40,374.70 C257.90,374.35 268.98,374.87 272.50,374.90" fill="none" stroke="#de893b" stroke-width="2.5"/>
<path d="M276.90,350.70 C284.85,350.28 304.92,348.92 324.60,348.20 C344.28,347.48 379.13,347.00 395.00,346.40 C410.87,345.80 410.70,345.50 419.80,344.60 C428.90,343.70 439.67,342.10 449.60,341.00 C459.53,339.90 468.13,338.80 479.40,338.00 C490.67,337.20 510.90,336.50 517.20,336.20" fill="none" stroke="#8499bf" stroke-width="2" stroke-dasharray="4.5 3.2"/>
<path d="M276.90,374.60 C284.85,374.93 304.92,375.77 324.60,376.60 C344.28,377.43 377.47,378.87 395.00,379.60 C412.53,380.33 417.38,380.90 429.80,381.00 C442.22,381.10 454.93,380.20 469.50,380.20 C484.07,380.20 509.25,380.87 517.20,381.00" fill="none" stroke="#de893b" stroke-width="2" stroke-dasharray="4.5 3.2"/>
<path d="M272.60,347.40 C277.97,347.07 292.82,345.93 304.80,345.40 C316.78,344.87 330.30,344.47 344.50,344.20 C358.70,343.93 377.45,344.00 390.00,343.80 C402.55,343.60 409.87,343.58 419.80,343.00 C429.73,342.42 439.67,341.22 449.60,340.30 C459.53,339.38 468.13,338.25 479.40,337.50 C490.67,336.75 510.90,336.08 517.20,335.80" fill="none" stroke="#3f8b46" stroke-width="2.5"/>
<path d="M272.60,378.60 C281.27,378.83 305.03,379.43 324.60,380.00 C344.17,380.57 374.13,381.57 390.00,382.00 C405.87,382.43 406.55,382.83 419.80,382.60 C433.05,382.37 453.27,380.83 469.50,380.60 C485.73,380.37 509.25,381.10 517.20,381.20" fill="none" stroke="#d9463b" stroke-width="2.5"/>
</g>
<line x1="27.4" y1="280.4" x2="554.5" y2="280.4" stroke="#cfcfcf" stroke-width="1" />
<line x1="27.4" y1="280.4" x2="27.4" y2="476.3" stroke="#c2c2c2" stroke-width="1" />
<line x1="27.4" y1="476.3" x2="554.5" y2="476.3" stroke="#c8c8c8" stroke-width="1" />
<line x1="517.2" y1="476.3" x2="554.5" y2="476.3" stroke="#999" stroke-width="1" />
<line x1="272.6" y1="280.4" x2="272.6" y2="476.3" stroke="#aaa" stroke-width="0.9" />
<line x1="517.2" y1="280.4" x2="517.2" y2="476.3" stroke="#bbb" stroke-width="0.9" />
<line x1="554.5" y1="280.4" x2="554.5" y2="476.3" stroke="#888" stroke-width="1" />
<line x1="27.4" y1="280.4" x2="30.4" y2="280.4" stroke="#aaa" stroke-width="0.8" />
<text x="24.2" y="283.7" font-size="9" text-anchor="end" fill="#222" font-weight="normal" >100</text>
<line x1="27.4" y1="378.3" x2="30.4" y2="378.3" stroke="#aaa" stroke-width="0.8" />
<text x="24.2" y="381.6" font-size="9" text-anchor="end" fill="#222" font-weight="normal" >50</text>
<line x1="27.4" y1="476.2" x2="30.4" y2="476.2" stroke="#aaa" stroke-width="0.8" />
<text x="24.2" y="479.5" font-size="9" text-anchor="end" fill="#222" font-weight="normal" >0</text>
<line x1="162.5" y1="476.3" x2="162.5" y2="473.3" stroke="#aaa" stroke-width="0.8" />
<text x="162.5" y="487.9" font-size="9" text-anchor="middle" fill="#222" font-weight="normal" >50</text>
<line x1="310.2" y1="476.3" x2="310.2" y2="473.3" stroke="#aaa" stroke-width="0.8" />
<text x="310.2" y="487.9" font-size="9" text-anchor="middle" fill="#222" font-weight="normal" >100</text>
<line x1="517.2" y1="476.3" x2="517.2" y2="473.3" stroke="#aaa" stroke-width="0.8" />
<text x="518" y="487.9" font-size="9" text-anchor="middle" fill="#222" font-weight="normal" >150</text>
<line x1="554.5" y1="476.3" x2="554.5" y2="473.3" stroke="#aaa" stroke-width="0.8" />
<text x="553.6" y="487.9" font-size="9" text-anchor="middle" fill="#222" font-weight="normal" >365</text>
<text x="175.6" y="468.0" font-size="9.4" text-anchor="start" fill="#222" font-weight="normal" >randomization period</text>
<text x="279.3" y="468.0" font-size="9.4" text-anchor="start" fill="#222" font-weight="normal" >individual choice period</text>
<text x="282.6" y="501.1" font-size="9.4" text-anchor="middle" fill="#111" font-weight="bold" >Days</text>
<text x="0" y="0" font-size="9.9" font-weight="bold" fill="#111" text-anchor="middle" transform="translate(8.3,380.8) rotate(-90)">Word recognition (%)</text>
<line x1="551.2" y1="303.6" x2="557.8" y2="311.6" stroke="#de893b" stroke-width="1.1" />
<line x1="551.2" y1="311.6" x2="557.8" y2="303.6" stroke="#de893b" stroke-width="1.1" />
<line x1="551.2" y1="323.1" x2="557.8" y2="331.1" stroke="#4e6cb3" stroke-width="1.1" />
<line x1="551.2" y1="331.1" x2="557.8" y2="323.1" stroke="#4e6cb3" stroke-width="1.1" />
</svg>
</body></html>
